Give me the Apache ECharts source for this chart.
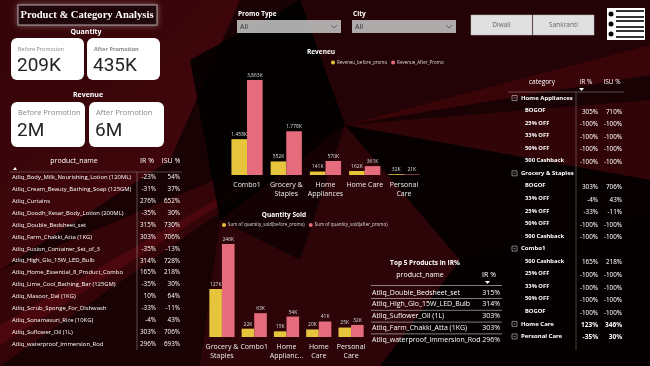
<!DOCTYPE html>
<html><head><meta charset="utf-8">
<script src="https://cdn.jsdelivr.net/npm/echarts@6/dist/echarts.min.js"></script>
<style>html,body{margin:0;padding:0;background:#000;overflow:hidden}#c{width:650px;height:366px}</style>
</head><body><div id="c"></div>
<script>
// ---------- DATA ----------
const revCategories = ['Combo1', 'Grocery &\nStaples', 'Home\nAppliances', 'Home Care', 'Personal\nCare'];
const revBefore = [1458, 552, 141, 162, 32];
const revAfter = [3863, 1778, 570, 361, 21];
const revSeriesNames = ['Reveneu_before_promo', 'Revenue_After_Promo'];

const qtyCategories = ['Grocery &\nStaples', 'Combo1', 'Home\nApplianc...', 'Home\nCare', 'Personal\nCare'];
const qtyBefore = [127, 22, 15, 20, 25];
const qtyAfter = [246, 63, 54, 41, 32];
const qtySeriesNames = ['Sum of quantity_sold(before_promo)', 'Sum of quantity_sold(after_promo)'];

const kpiQtyLabels = ['Before Promotion', 'After Promotion'];
const kpiQtyValues = ['209K', '435K'];
const kpiRevLabels = ['Before Promotion', 'After Promotion'];
const kpiRevValues = ['2M', '6M'];

const productNames = ['Atliq_Body_Milk_Nourishing_Lotion (120ML)', 'Atliq_Cream_Beauty_Bathing_Soap (125GM)', 'Atliq_Curtains',
  'Atliq_Doodh_Kesar_Body_Lotion (200ML)', 'Atliq_Double_Bedsheet_set', 'Atliq_Farm_Chakki_Atta (1KG)',
  'Atliq_Fusion_Container_Set_of_3', 'Atliq_High_Glo_15W_LED_Bulb', 'Atliq_Home_Essential_8_Product_Combo',
  'Atliq_Lime_Cool_Bathing_Bar (125GM)', 'Atliq_Masoor_Dal (1KG)', 'Atliq_Scrub_Sponge_For_Dishwash',
  'Atliq_Sonamasuri_Rice (10KG)', 'Atliq_Suflower_Oil (1L)', 'Atliq_waterproof_Immersion_Rod'];
const productIR = [-23, -31, 276, -35, 315, 303, -35, 314, 165, -35, 10, -33, -4, 303, 296];
const productISU = [54, 37, 652, 30, 730, 706, -13, 728, 218, 30, 64, -11, 43, 706, 693];

const top5Names = ['Atliq_Double_Bedsheet_set', 'Atliq_High_Glo_15W_LED_Bulb', 'Atliq_Suflower_Oil (1L)',
  'Atliq_Farm_Chakki_Atta (1KG)', 'Atliq_waterproof_Immersion_Rod'];
const top5IR = [315, 314, 303, 303, 296];

const matrixCategories = ['Home Appliances', 'Grocery & Staples', 'Combo1', 'Home Care', 'Personal Care'];
const matrixCatIR = [null, null, null, 123, -35];
const matrixCatISU = [null, null, null, 346, 30];
const matrixPromos = [
  ['BOGOF', '25% OFF', '33% OFF', '50% OFF', '500 Cashback'],
  ['BOGOF', '33% OFF', '25% OFF', '50% OFF', '500 Cashback'],
  ['500 Cashback', '25% OFF', '33% OFF', '50% OFF', 'BOGOF'],
  [], []];
const matrixIR = [[305, -100, -100, -100, -100], [303, -4, -33, -100, -100], [165, -100, -100, -100, -100], [], []];
const matrixISU = [[710, -100, -100, -100, -100], [706, 43, -11, -100, -100], [218, -100, -100, -100, -100], [], []];

const promoTypeLabel = 'Promo Type', cityLabel = 'City', slicerValue = 'All';
const campaigns = ['Diwali', 'Sankranti'];

// ---------- HELPERS ----------
const F = '"Open Sans", "Noto Sans", sans-serif';
const YELLOW = '#E6C53C', PINK = '#E56C7D';
function T(x, y, text, o) {
  o = o || {};
  const a = o.a || 'left';
  return { type: 'text', x: x, y: y, silent: true, z: o.z != null ? o.z : 20,
    style: { text: text, fill: o.c || '#fff', fontSize: o.s || 7, fontFamily: o.f || F, fontWeight: o.w || 'normal',
      align: a, textAlign: a, verticalAlign: 'middle', textVerticalAlign: 'middle' } };
}
function R(x, y, w, h, o) {
  o = o || {};
  return { type: 'rect', silent: true, z: o.z != null ? o.z : 10, shape: { x: x, y: y, width: w, height: h, r: o.r || 0 },
    style: { fill: o.fill || 'none', stroke: o.stroke || null, lineWidth: o.lw || 1, shadowBlur: o.sb || 0, shadowColor: o.sc || 'transparent' } };
}
function L(x1, y1, x2, y2, c, w) {
  return { type: 'line', silent: true, z: 15, shape: { x1: x1, y1: y1, x2: x2, y2: y2 }, style: { stroke: c || '#555', lineWidth: w || 1 } };
}
function P(points, fill, z) {
  return { type: 'polygon', silent: true, z: z != null ? z : 1, shape: { points: points }, style: { fill: fill } };
}
const pct = v => v + '%';

const g = [];
// ---------- BACKGROUND ----------
g.push(R(0, 0, 650, 366, { fill: '#180204', z: 0 }));
g.push(P([[0, 0], [240, 0], [170, 160], [0, 270]], new echarts.graphic.LinearGradient(0, 0, 1, 1, [{ offset: 0, color: 'rgba(55,5,9,0.9)' }, { offset: 1, color: 'rgba(85,9,15,0.7)' }]), 0.5));
g.push(P([[0, 270], [345, 125], [0, 366]], 'rgba(70,7,12,0.6)', 0.5));
g.push(P([[0, 325], [345, 125], [0, 345]], 'rgba(120,14,22,0.35)', 0.6));
g.push(P([[190, 60], [300, 0], [345, 125], [220, 220]], 'rgba(0,0,0,0.85)', 0.6));
g.push(P([[300, 0], [650, 0], [650, 45], [345, 125]], 'rgba(40,4,7,0.7)', 0.5));
g.push(P([[345, 125], [650, 45], [650, 75]], 'rgba(120,12,20,0.35)', 0.6));
g.push(P([[345, 125], [650, 100], [650, 180]], 'rgba(80,8,14,0.45)', 0.6));
g.push(P([[345, 125], [650, 180], [650, 215], [460, 260]], 'rgba(0,0,0,0.7)', 0.6));
g.push(P([[345, 125], [460, 260], [380, 366], [200, 366], [220, 220]], 'rgba(65,6,11,0.5)', 0.5));
g.push(P([[460, 260], [650, 215], [650, 366], [380, 366]], 'rgba(0,0,0,0.8)', 0.6));
g.push(P([[220, 220], [345, 125], [300, 260]], 'rgba(0,0,0,0.55)', 0.6));

// ---------- TITLE ----------
g.push(R(18, 5, 139, 20, { fill: '#1a0205', stroke: 'rgba(210,200,200,0.55)', lw: 1.5, sb: 6, sc: 'rgba(255,255,255,0.35)' }));
g.push(T(87, 15, 'Product & Category Analysis', { s: 10.6, w: 'bold', a: 'center', f: '"Liberation Serif", "DejaVu Serif", serif' }));

// ---------- KPI CARDS ----------
g.push(T(86, 32, 'Quantity', { s: 7, w: 'bold', a: 'center' }));
[[11, 73], [87, 73]].forEach((c, i) => {
  g.push(R(c[0], 38, c[1], 42, { fill: '#fff', r: 6 }));
  g.push(T(c[0] + 7, 49, kpiQtyLabels[i], { s: 5.5, c: '#8a8886', w: i ? 'bold' : 'normal' }));
  g.push(T(c[0] + 6, 66, kpiQtyValues[i], { s: 19, c: '#252423', f: 'Roboto, sans-serif' }));
});
g.push(T(88, 95, 'Revenue', { s: 7, w: 'bold', a: 'center' }));
[[11, 74], [89, 75]].forEach((c, i) => {
  g.push(R(c[0], 102, c[1], 45, { fill: '#fff', r: 6 }));
  g.push(T(c[0] + 7, 113, kpiRevLabels[i], { s: 7.5, c: '#8a8886' }));
  g.push(T(c[0] + 6, 131, kpiRevValues[i], { s: 19, c: '#252423', f: 'Roboto, sans-serif' }));
});

// ---------- PRODUCT TABLE ----------
g.push(T(74, 161, 'product_name', { s: 7, a: 'center' }));
g.push(T(147, 161, 'IR %', { s: 7, a: 'center' }));
g.push(T(171, 161, 'ISU %', { s: 7, a: 'center' }));
g.push(P([[13, 170], [17, 170], [15, 167]], '#fff', 20));
g.push(L(10, 172, 182, 172, 'rgba(160,160,160,0.6)', 0.7));
g.push(L(137, 172, 137, 350, 'rgba(160,160,160,0.7)', 0.7));
productNames.forEach((n, i) => {
  const y = 177.5 + i * 11.9;
  g.push(T(12, y, n, { s: 5.9 }));
  g.push(T(156, y, pct(productIR[i]), { s: 6.3, a: 'right' }));
  g.push(T(180, y, pct(productISU[i]), { s: 6.3, a: 'right' }));
});

// ---------- FILTERS ----------
[[237, promoTypeLabel], [352, cityLabel]].forEach(f => {
  g.push(T(f[0] + 1, 14, f[1], { s: 6.5, w: 'bold' }));
  g.push(R(f[0], 20, 104, 13, { fill: 'rgba(200,200,200,0.85)' }));
  g.push(T(f[0] + 3, 27, slicerValue, { s: 7, c: '#333' }));
  g.push({ type: 'polyline', silent: true, z: 20, shape: { points: [[f[0] + 94, 25], [f[0] + 97, 28], [f[0] + 100, 25]] }, style: { stroke: '#555', lineWidth: 0.8, fill: null } });
});
campaigns.forEach((c, i) => {
  const x = 471 + i * 62;
  g.push(R(x, 15, 61, 20, { fill: '#e0e0e0', stroke: '#bbb', lw: 0.5 }));
  g.push(T(x + 30.5, 25, c, { s: 6.5, c: '#666', a: 'center' }));
});
g.push(R(607, 8, 38, 32, { fill: '#fff' }));
[14, 24, 34].forEach(y => {
  g.push({ type: 'circle', silent: true, z: 20, shape: { cx: 611, cy: y, r: 2.5 }, style: { fill: '#000' } });
  g.push(L(616, y - 3, 644, y - 3, '#000', 1.6));
  g.push(L(616, y + 3, 644, y + 3, '#000', 1.6));
});

// ---------- TOP 5 TABLE ----------
g.push(T(425, 263, 'Top 5 Products in IR%', { s: 6.5, w: 'bold', a: 'center' }));
g.push(T(420, 275, 'product_name', { s: 7, a: 'center' }));
g.push(T(489, 275, 'IR %', { s: 7, a: 'center' }));
g.push(P([[485, 281], [490, 281], [487.5, 284]], '#fff', 20));
g.push(L(371, 285.5, 502, 285.5, 'rgba(200,200,200,0.8)', 0.8));
top5Names.forEach((n, i) => {
  const y = 292.5 + i * 11.8;
  g.push(T(372, y, n, { s: 7 }));
  g.push(T(500, y, pct(top5IR[i]), { s: 7, a: 'right' }));
  if (i < 4) g.push(L(371, y + 6, 502, y + 6, 'rgba(200,200,200,0.8)', 0.8));
});

// ---------- MATRIX ----------
g.push(T(542, 82, 'category', { s: 6.5, a: 'center' }));
g.push(T(586, 82, 'IR %', { s: 6.5, a: 'center' }));
g.push(T(612, 82, 'ISU %', { s: 6.5, a: 'center' }));
g.push(P([[579, 88], [584, 88], [581.5, 91]], '#fff', 20));
g.push(L(508, 92, 624, 92, 'rgba(160,160,160,0.7)', 0.7));
g.push(L(576, 92, 576, 350, 'rgba(160,160,160,0.6)', 0.7));
let row = 0;
const MF = '"Noto Sans", "Open Sans", sans-serif';
matrixCategories.forEach((cat, ci) => {
  const y = 98 + row * 12.55;
  g.push(R(512, y - 2.5, 5, 5, { stroke: '#ccc', lw: 0.6, z: 20 }));
  g.push(L(513.5, y, 515.5, y, '#ccc', 0.6));
  g.push(T(521, y, cat, { s: 6, w: 'bold', f: MF }));
  if (matrixCatIR[ci] !== null) {
    g.push(T(598, y + 1, pct(matrixCatIR[ci]), { s: 6.5, w: 'bold', a: 'right', f: MF }));
    g.push(T(622, y + 1, pct(matrixCatISU[ci]), { s: 6.5, w: 'bold', a: 'right', f: MF }));
  }
  row++;
  matrixPromos[ci].forEach((p, pi) => {
    const yy = 98 + row * 12.55;
    g.push(T(525, yy, p, { s: 5.8, w: 'bold', f: MF }));
    g.push(T(598, yy + 1.5, pct(matrixIR[ci][pi]), { s: 6.3, a: 'right', f: MF }));
    g.push(T(622, yy + 1.5, pct(matrixISU[ci][pi]), { s: 6.3, a: 'right', f: MF }));
    row++;
  });
});

// ---------- CHART TITLES ----------
g.push(T(321, 52, 'Reveneu', { s: 6.5, w: 'bold', a: 'center' }));
g.push(T(284, 215, 'Quantity Sold', { s: 6.5, w: 'bold', a: 'center' }));

// ---------- CHART ----------
const kfmt = p => p.value.toLocaleString('en-US') + 'K';
const barLabel = { show: true, position: 'top', distance: 2, color: '#ddd', fontSize: 5, fontFamily: F, formatter: kfmt };
const xLab = { color: '#eee', fontSize: 7, fontFamily: F, lineHeight: 9, margin: 5, interval: 0 };
const option = {
  backgroundColor: '#000',
  animation: false,
  graphic: { elements: g },
  legend: [
    { data: revSeriesNames, left: 331, top: 60, itemWidth: 4, itemHeight: 4, itemGap: 4, icon: 'circle', padding: 0, z: 30,
      textStyle: { color: '#ddd', fontSize: 4.5, fontFamily: F, padding: [0, 0, 0, -3] } },
    { data: qtySeriesNames, left: 222, top: 222.5, itemWidth: 4, itemHeight: 4, itemGap: 4, icon: 'circle', padding: 0, z: 30,
      textStyle: { color: '#ddd', fontSize: 4.5, fontFamily: F, padding: [0, 0, 0, -3] } }
  ],
  grid: [
    { left: 227.4, width: 196.2, top: 76.6, height: 98.4, containLabel: false },
    { left: 205.8, width: 161.4, top: 242.5, height: 94.5, containLabel: false }
  ],
  xAxis: [
    { type: 'category', gridIndex: 0, data: revCategories, axisLine: { show: false }, axisTick: { show: false }, axisLabel: xLab, z: 30 },
    { type: 'category', gridIndex: 1, data: qtyCategories, axisLine: { show: false }, axisTick: { show: false }, axisLabel: xLab, z: 30 }
  ],
  yAxis: [
    { type: 'value', gridIndex: 0, min: 0, max: 4000, show: false, splitLine: { show: false } },
    { type: 'value', gridIndex: 1, min: 0, max: 250, show: false, splitLine: { show: false } }
  ],
  series: [
    { name: revSeriesNames[0], type: 'bar', z: 30, xAxisIndex: 0, yAxisIndex: 0, data: revBefore, barWidth: 15.6, barGap: '0%', itemStyle: { color: YELLOW }, label: barLabel },
    { name: revSeriesNames[1], type: 'bar', z: 30, xAxisIndex: 0, yAxisIndex: 0, data: revAfter, barWidth: 15.6, barGap: '0%', itemStyle: { color: PINK }, label: barLabel },
    { name: qtySeriesNames[0], type: 'bar', z: 30, xAxisIndex: 1, yAxisIndex: 1, data: qtyBefore, barWidth: 12.6, barGap: '0%', itemStyle: { color: YELLOW }, label: barLabel },
    { name: qtySeriesNames[1], type: 'bar', z: 30, xAxisIndex: 1, yAxisIndex: 1, data: qtyAfter, barWidth: 12.6, barGap: '0%', itemStyle: { color: PINK }, label: barLabel }
  ]
};
const chart = echarts.init(document.getElementById('c'), null, { renderer: 'canvas', width: 650, height: 366 });
chart.setOption(option);
</script></body></html>
